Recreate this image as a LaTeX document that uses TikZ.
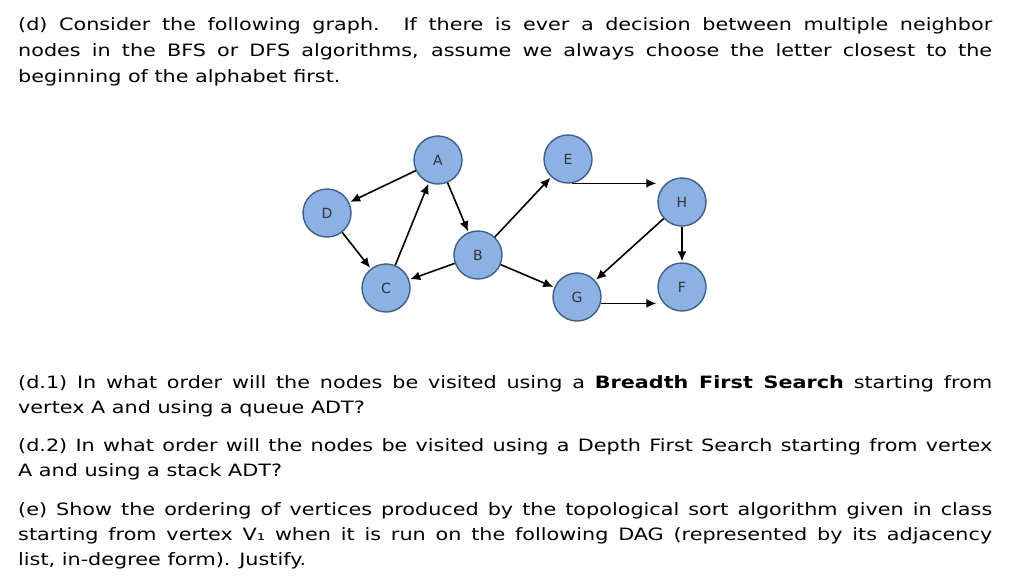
\documentclass[tikz,border=0pt]{standalone}
\usepackage{fontspec}
\usetikzlibrary{arrows.meta}
\setmainfont{DejaVu Sans}[FakeStretch=1.22]
\newfontfamily\lblfont{DejaVu Sans}
\definecolor{vfill}{HTML}{8CB2E4}
\definecolor{vdraw}{HTML}{3E5F86}
\begin{document}
\begin{tikzpicture}[x=1pt,y=-1pt,
  vtx/.style={circle,draw=vdraw,line width=1.4pt,fill=vfill,minimum size=48pt,inner sep=0pt,font=\lblfont\fontsize{14}{14}\selectfont,text=black!80},
  edge/.style={-{Latex[length=10pt,width=9pt]},line width=1.6pt,shorten >=1pt},
  ln/.style={anchor=base west,inner sep=0pt,font=\fontsize{17}{26}\selectfont}]
\useasboundingbox (0,0) rectangle (1024,576);
\fill[white] (0,0) rectangle (1024,576);
\newcommand{\jl}[1]{\makebox[974pt][s]{#1}}
\node[ln] (l1) at (18,30) {\jl{(d) Consider the following graph. If there is ever a decision between multiple neighbor}};
\node[ln] (l2) at (18,56) {\jl{nodes in the BFS or DFS algorithms, assume we always choose the letter closest to the}};
\node[ln] (l3) at (18,82) {beginning of the alphabet first.};
\node[ln] (l4) at (18,388) {\jl{(d.1) In what order will the nodes be visited using a \textbf{Breadth First Search} starting from}};
\node[ln] (l5) at (18,413) {vertex A and using a queue ADT?};
\node[ln] (l6) at (18,451) {\jl{(d.2) In what order will the nodes be visited using a Depth First Search starting from vertex}};
\node[ln] (l7) at (18,476) {A and using a stack ADT?};
\node[ln] (l8) at (18,515) {\jl{(e) Show the ordering of vertices produced by the topological sort algorithm given in class}};
\node[ln] (l9) at (18,540) {\jl{starting from vertex V₁ when it is run on the following DAG (represented by its adjacency}};
\node[ln] (l10) at (18,565) {list, in-degree form). Justify.};
\node[vtx] (A) at (438,160) {A};
\node[vtx] (D) at (327,213) {D};
\node[vtx] (C) at (386,288) {C};
\node[vtx] (B) at (478,255) {B};
\node[vtx] (E) at (568,159) {E};
\node[vtx] (H) at (682,202) {H};
\node[vtx] (G) at (577,297) {G};
\node[vtx] (F) at (682,287) {F};
\draw[edge] (A) -- (D);
\draw[edge] (D) -- (C);
\draw[edge] (C) -- (A);
\draw[edge] (A) -- (B);
\draw[edge] (B) -- (C);
\draw[edge] (B) -- (E);
\draw[edge] (B) -- (G);
\draw[edge] (E.-80) -- (E.-80 -| H.west);
\draw[edge] (H) -- (G);
\draw[edge] (H) -- (F);
\draw[edge] (G.-15) -- (G.-15 -| F.west);
\end{tikzpicture}
\end{document}
